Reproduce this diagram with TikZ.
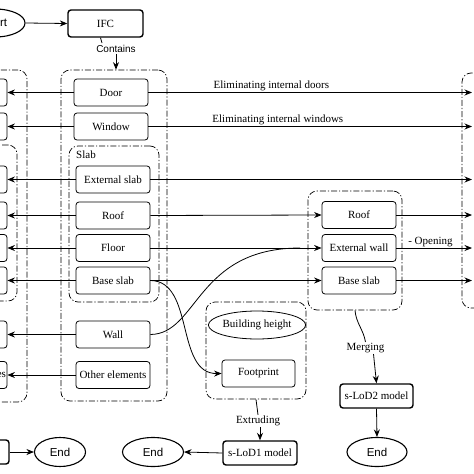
\documentclass[tikz,border=0pt]{standalone}
\usepackage{fontspec}
\setmainfont{Liberation Serif}
\newfontfamily\sansf{Liberation Sans}
\usetikzlibrary{arrows.meta,shapes.geometric}
\begin{document}
\begin{tikzpicture}[x=1pt,y=-1pt,
  box/.style={draw, rounded corners=3pt, line width=0.8pt, minimum width=74pt, minimum height=27pt, inner sep=0pt, font=\fontsize{11}{13}\selectfont},
  tbox/.style={box, line width=1.4pt, minimum height=24pt},
  oval/.style={draw, ellipse, line width=1.1pt, inner sep=0pt, font=\sansf\fontsize{11.5}{13}\selectfont},
  grp/.style={draw, rounded corners=9pt, line width=0.7pt, dash pattern=on 6pt off 2pt on 1.2pt off 2pt, inner sep=0pt},
  arr/.style={-{Stealth[length=7.5pt,width=6pt]}, line width=0.8pt},
  lbl/.style={font=\fontsize{11}{13}\selectfont, inner sep=1pt}
]
\clip (0,0) rectangle (474,474);
\fill[white] (0,0) rectangle (474,474);

% groups
\node[grp, minimum width=107pt, minimum height=332pt] (lg) at (-26.5,236) {};
\node[grp, minimum width=97pt, minimum height=156pt] (lsg) at (-31.5,223) {};
\node[grp, minimum width=106pt, minimum height=331pt] (mg) at (114,235.5) {};
\node[grp, minimum width=90pt, minimum height=156pt] (sg) at (114,224) {};
\node[grp, minimum width=100pt, minimum height=97pt] (fg) at (256,350.5) {};
\node[grp, minimum width=94pt, minimum height=119pt] (c3g) at (355,250.5) {};
\node[grp, minimum width=98pt, minimum height=235pt] (rg) at (511,190.5) {};

\node[lbl, anchor=west] (slablbl) at (75,155) {Slab};

% top
\node[oval, minimum width=60pt, minimum height=28pt] (start) at (-5,23) {Start};
\node[tbox, minimum width=75pt, minimum height=27pt] (ifc) at (105.5,23.5) {IFC};
\node[font=\sansf\fontsize{10}{12}\selectfont, inner sep=1pt] (contains) at (116,49) {Contains};
\coordinate (c1) at (102,43);

% middle column
\node[box] (door) at (111,92.5) {Door};
\node[box] (window) at (111,126.5) {Window};
\node[box] (extslab) at (113,179.5) {External slab};
\node[box] (roof) at (113,215.5) {Roof};
\node[box] (floor) at (113,248) {Floor};
\node[box] (base) at (113,280.5) {Base slab};
\node[box] (wall) at (113,334.5) {Wall};
\node[box] (other) at (113,375) {Other elements};

% left column
\node[box] (ldoor) at (-30,92.5) {};
\node[box] (lwindow) at (-30,126.5) {};
\node[box] (lextslab) at (-30,179.5) {};
\node[box] (lroof) at (-30,215.5) {};
\node[box] (lfloor) at (-30,248) {};
\node[box] (lbase) at (-30,280.5) {};
\node[box] (lwall) at (-30,334.5) {};
\node[box, text width=72pt, inner xsep=1pt, align=right] (lother) at (-30,375) {es};
\node[tbox] (lend) at (-28,452) {};

% third column
\node[box] (roof3) at (359,215) {Roof};
\node[box] (ewall) at (359,248) {External wall};
\node[box] (base3) at (359,280.5) {Base slab};

% footprint group
\node[draw, ellipse, line width=0.8pt, inner sep=0pt, minimum width=80pt, minimum height=28pt, font=\fontsize{11}{13}\selectfont] (bheight) at (257,325) {Building height};
\node[box, minimum width=73pt] (foot) at (258.5,373.5) {Footprint};

% bottom
\node[tbox] (s1) at (260,453) {s-LoD1 model};
\node[tbox, minimum width=73pt] (s2) at (376.5,396) {s-LoD2 model};
\node[oval, minimum width=51pt, minimum height=29pt] (end1) at (60,452) {End};
\node[oval, minimum width=61pt, minimum height=29pt] (end2) at (153,452) {End};
\node[oval, minimum width=60pt, minimum height=29pt] (end3) at (377,452) {End};
\node[lbl] (merging) at (365.5,348) {Merging};
\node[lbl] (extr) at (258,421) {Extruding};

% right end coordinates
\coordinate (r1) at (472,92.5);
\coordinate (r2) at (472,126.5);
\coordinate (r3) at (472,179.5);
\coordinate (r4) at (472,215);
\coordinate (r5) at (472,248);
\coordinate (r6) at (472,280.5);
\coordinate (merge) at (300,248);

% connectors
\draw[arr] (start.east) -- (ifc.west);
\draw[line width=0.8pt] ([xshift=-5pt]ifc.south) -- (c1);
\draw[arr] (contains.south) -- (contains.south |- mg.north);

\draw[arr] (door.east) -- node[lbl, above, pos=0.38] {Eliminating internal doors} (r1);
\draw[arr] (window.east) -- node[lbl, above, pos=0.40] {Eliminating internal windows} (r2);
\draw[arr] (extslab.east) -- (r3);
\draw[arr] (roof.east) -- (roof3.west);
\draw[arr] (floor.east) -- (ewall.west);
\draw[arr] (base.east) -- (base3.west);
\draw[arr] (roof3.east) -- (r4);
\draw[arr] (ewall.east) -- node[lbl, above, pos=0.45] {- Opening} (r5);
\draw[arr] (base3.east) -- (r6);

\draw[arr] (door.west) -- (ldoor.east);
\draw[arr] (window.west) -- (lwindow.east);
\draw[arr] (extslab.west) -- (lextslab.east);
\draw[arr] (roof.west) -- (lroof.east);
\draw[arr] (floor.west) -- (lfloor.east);
\draw[arr] (base.west) -- (lbase.east);
\draw[arr] (wall.west) -- (lwall.east);
\draw[arr] (other.west) -- (lother.east);

\draw[arr] (base.east) .. controls (195,281) and (175,374) .. (foot.west);
\draw[line width=0.8pt] (wall.east) .. controls (198,334) and (196,248) .. (merge);

\draw[line width=0.8pt] (c3g.south) to[out=-85,in=100] (merging.north);
\draw[arr] ([xshift=8pt]merging.south) -- (s2.north);
\draw[arr] (s2.south) -- (end3.north);

\draw[line width=0.8pt] (fg.south) -- (extr.north);
\draw[arr] ([xshift=2pt]extr.south) -- (s1.north);
\draw[arr] (s1.west) -- (end2.east);
\draw[arr] (lend.east) -- (end1.west);
\end{tikzpicture}
\end{document}
